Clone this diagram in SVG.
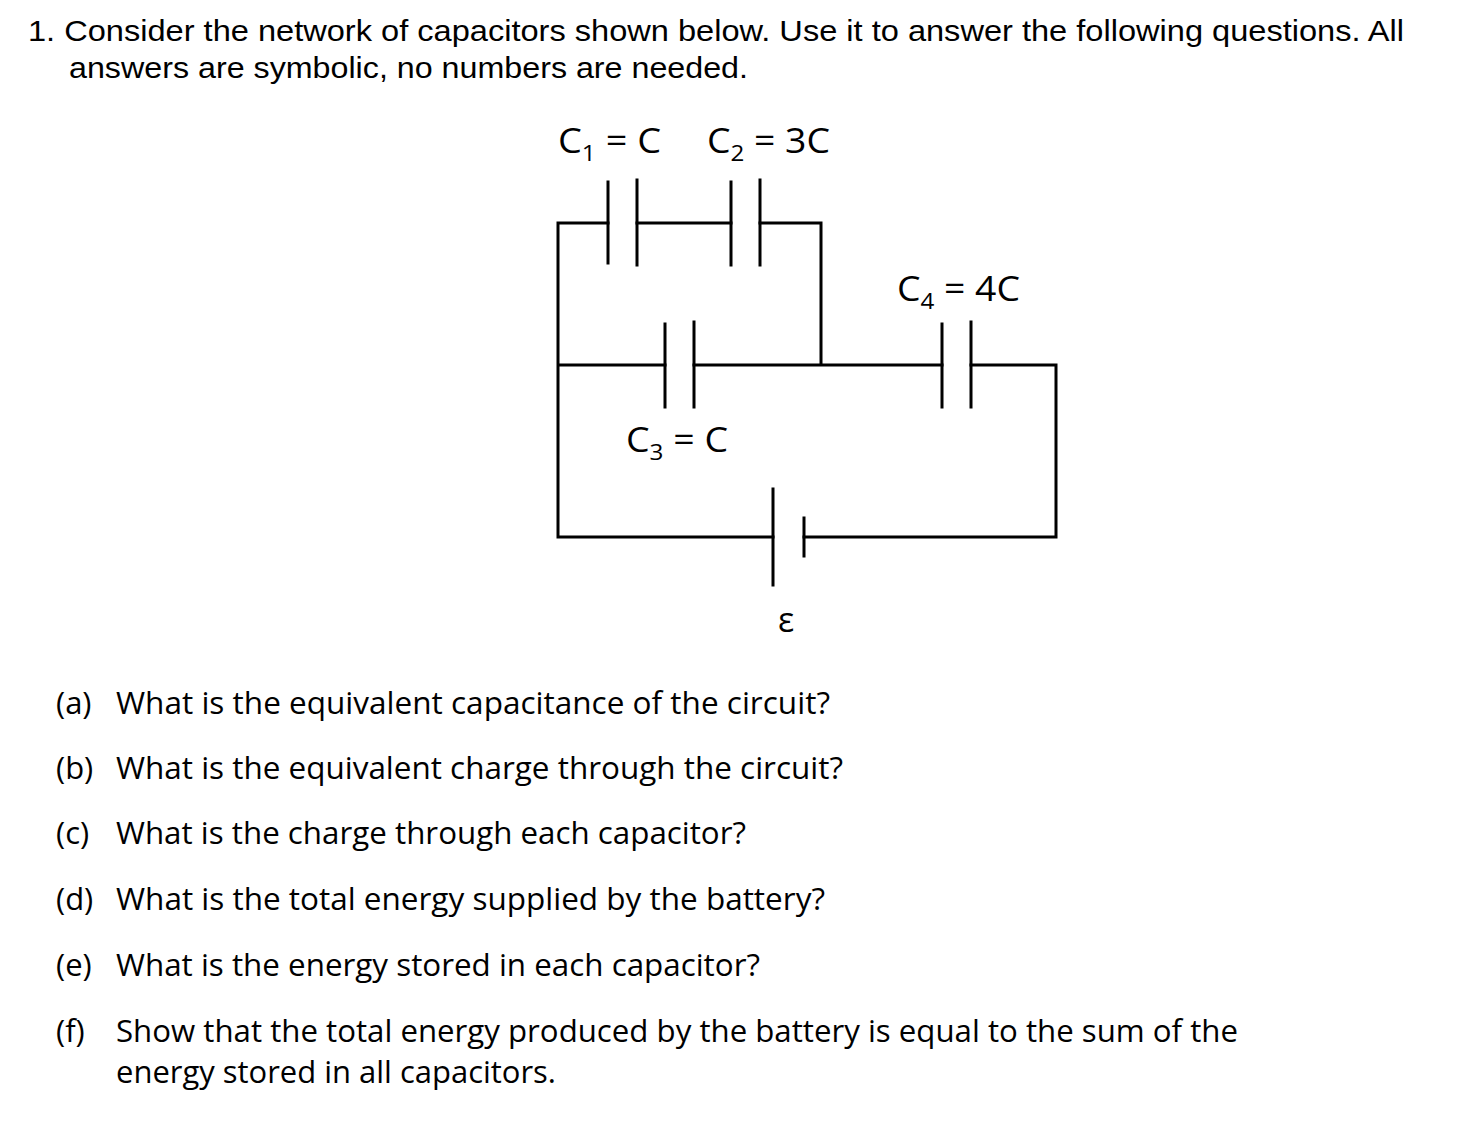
<svg xmlns="http://www.w3.org/2000/svg" width="1476" height="1126" viewBox="0 0 1476 1126">
<style>
.w{stroke:#000;stroke-width:3;fill:none;stroke-linecap:square}
.t{font-family:"Liberation Sans",Arial,sans-serif;font-size:30px;fill:#000}
.c{font-family:"Open Sans","Noto Sans",sans-serif;font-size:31px;fill:#000}
.l{font-family:"Open Sans","Noto Sans",sans-serif;font-size:34px;fill:#000}
.s{font-size:22px}
</style>
<rect width="1476" height="1126" fill="#fff"/>
<g id="title">
<text class="t" x="28" y="41" textLength="1376" lengthAdjust="spacingAndGlyphs">1.  Consider the network of capacitors shown below. Use it to answer the following questions. All</text>
<text class="t" x="69" y="78" textLength="679" lengthAdjust="spacingAndGlyphs">answers are symbolic, no numbers are needed.</text>
</g>
<g id="connectors">
<path class="w" d="M608 223 H558 V537 H773 M804 537 H1056 V365 H971 M942 365 H821 V223 H760 M731 223 H637 M558 365 H665 M694 365 H821"/>
</g>
<g id="C1"><path class="w" d="M608 182 V263 M637 180 V265"/><text class="l" x="558" y="153" textLength="103" lengthAdjust="spacingAndGlyphs">C<tspan class="s" dy="8">1</tspan><tspan dy="-8"> = C</tspan></text></g>
<g id="C2"><path class="w" d="M731 182 V265 M760 180 V265"/><text class="l" x="707" y="153" textLength="123" lengthAdjust="spacingAndGlyphs">C<tspan class="s" dy="8">2</tspan><tspan dy="-8"> = 3C</tspan></text></g>
<g id="C3"><path class="w" d="M665 324 V407 M694 322 V407"/><text class="l" x="626" y="452" textLength="102" lengthAdjust="spacingAndGlyphs">C<tspan class="s" dy="8">3</tspan><tspan dy="-8"> = C</tspan></text></g>
<g id="C4"><path class="w" d="M942 324 V407 M971 322 V407"/><text class="l" x="897" y="301" textLength="123" lengthAdjust="spacingAndGlyphs">C<tspan class="s" dy="8">4</tspan><tspan dy="-8"> = 4C</tspan></text></g>
<g id="battery"><path class="w" d="M773 489 V585 M804 518 V556"/><text class="l" x="778" y="632">ε</text></g>
<g id="questions">
<text class="c" x="56" y="714">(a)</text><text class="c" x="116" y="714" textLength="714" lengthAdjust="spacingAndGlyphs">What is the equivalent capacitance of the circuit?</text>
<text class="c" x="56" y="779">(b)</text><text class="c" x="116" y="779" textLength="727" lengthAdjust="spacingAndGlyphs">What is the equivalent charge through the circuit?</text>
<text class="c" x="56" y="844">(c)</text><text class="c" x="116" y="844" textLength="630" lengthAdjust="spacingAndGlyphs">What is the charge through each capacitor?</text>
<text class="c" x="56" y="910">(d)</text><text class="c" x="116" y="910" textLength="709" lengthAdjust="spacingAndGlyphs">What is the total energy supplied by the battery?</text>
<text class="c" x="56" y="976">(e)</text><text class="c" x="116" y="976" textLength="644" lengthAdjust="spacingAndGlyphs">What is the energy stored in each capacitor?</text>
<text class="c" x="56" y="1042">(f)</text><text class="c" x="116" y="1042" textLength="1122" lengthAdjust="spacingAndGlyphs">Show that the total energy produced by the battery is equal to the sum of the</text>
<text class="c" x="116" y="1083" textLength="440" lengthAdjust="spacingAndGlyphs">energy stored in all capacitors.</text>
</g>
</svg>
